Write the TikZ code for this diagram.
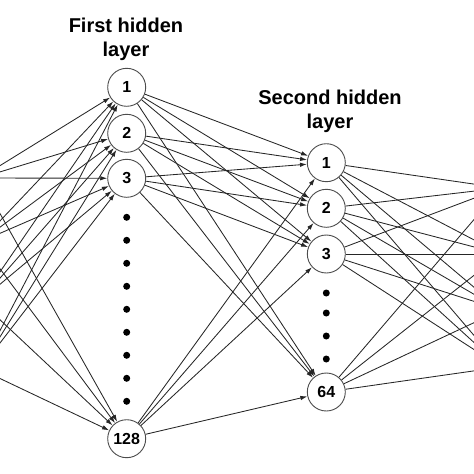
\documentclass[tikz,border=0pt]{standalone}
\usepackage{fontspec}
\setmainfont{Liberation Sans}
\usepackage{tikz}
\usetikzlibrary{arrows.meta,positioning,calc}

\begin{document}
\begin{tikzpicture}[
	x=1pt, y=-1pt,
	neuron/.style={
		circle,
		draw=black!70,
		fill=white,
		line width=0.9pt,
		minimum size=38pt,
		inner sep=0pt,
		font=\fontsize{16}{16}\selectfont\bfseries
	},
	blob/.style={
		circle,
		fill=black,
		inner sep=0pt,
		minimum size=7pt
	},
	layertitle/.style={
		align=center,
		font=\fontsize{20}{24}\selectfont\bfseries
	},
	link/.style={
		draw=black!85,
		line width=0.85pt,
		-{Latex[length=7pt,width=4.5pt]}
	},
	]
	\useasboundingbox (0,0) rectangle (474,474);

	% input layer (outside the left edge)
	\node[neuron] (I1) at (-20,178) {};
	\node[neuron] (I2) at (-20,242) {};
	\node[neuron] (I3) at (-20,301) {};
	\node[neuron] (I4) at (-20,369) {};

	% first hidden layer
	\node[layertitle] (T1) at (126,39) {First hidden\\layer};
	\node[neuron] (H1) at (126.7,87.3) {1};
	\node[neuron] (H2) at (126.7,133.3) {2};
	\node[neuron] (H3) at (126.7,178.3) {3};
	\node[neuron] (H128) at (126.7,438.7) {128};
	\foreach \k in {0,...,8}
		\node[blob] (HD\k) at (126.7,217.3+23*\k) {};

	% second hidden layer
	\node[layertitle] (T2) at (330,111) {Second hidden\\layer};
	\node[neuron] (S1) at (326.3,162.7) {1};
	\node[neuron] (S2) at (326.3,208.3) {2};
	\node[neuron] (S3) at (326.3,254) {3};
	\node[neuron] (S64) at (326.3,392) {64};
	\foreach \y [count=\k] in {293,313,336,359}
		\node[blob] (SD\k) at (326.3,\y) {};

	% output layer (outside the right edge)
	\node[neuron] (O1) at (501,188) {};
	\node[neuron] (O2) at (501,254) {};
	\node[neuron] (O3) at (501,310) {};
	\node[neuron] (O4) at (501,367) {};

	% connections
	\foreach \a in {I1,I2,I3,I4}
		\foreach \b in {H1,H2,H3,H128}
			\draw[link] (\a) to (\b);
	\foreach \a in {H1,H2,H3,H128}
		\foreach \b in {S1,S2,S3,S64}
			\draw[link] (\a) to (\b);
	\foreach \a in {S1,S2,S3,S64}
		\foreach \b in {O1,O2,O3,O4}
			\draw[link] (\a) to (\b);
\end{tikzpicture}
\end{document}
